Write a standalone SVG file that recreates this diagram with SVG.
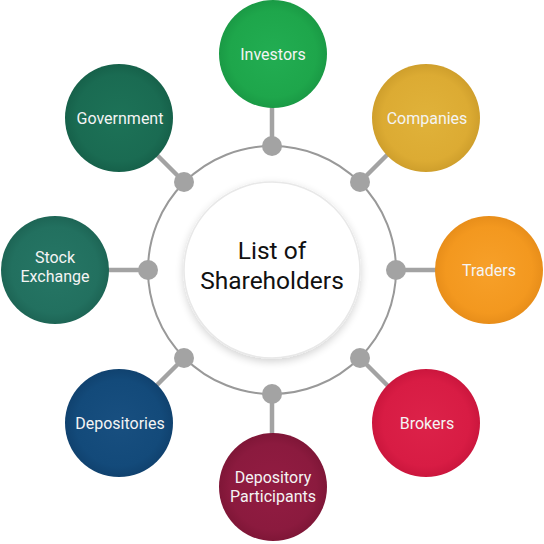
<svg xmlns="http://www.w3.org/2000/svg" width="544" height="544" viewBox="0 0 544 544">
<style>
.lbl{font-family:Roboto,"Liberation Sans",sans-serif;font-size:16px;fill:#f4f4f4;text-anchor:middle}
.center{font-family:Roboto,"Liberation Sans",sans-serif;font-size:24.5px;fill:#111;text-anchor:middle}
.conn{stroke:#a3a3a3;stroke-width:4.5;fill:none}
.dot{fill:#a3a3a3}
.ring{stroke:#999;stroke-width:2;fill:none}
</style>
<defs>
<radialGradient id="gInv"><stop offset="0" stop-color="#22ad52"/><stop offset="0.8" stop-color="#1ea64b"/><stop offset="1" stop-color="#1a9a45"/></radialGradient>
<radialGradient id="gCom"><stop offset="0" stop-color="#e0b23a"/><stop offset="0.8" stop-color="#dcab33"/><stop offset="1" stop-color="#cf9f2c"/></radialGradient>
<radialGradient id="gTra"><stop offset="0" stop-color="#f7a029"/><stop offset="0.8" stop-color="#f3981f"/><stop offset="1" stop-color="#e88e1a"/></radialGradient>
<radialGradient id="gBro"><stop offset="0" stop-color="#dc2249"/><stop offset="0.8" stop-color="#d81c44"/><stop offset="1" stop-color="#cb163d"/></radialGradient>
<radialGradient id="gDP"><stop offset="0" stop-color="#921c42"/><stop offset="0.8" stop-color="#8b1a3e"/><stop offset="1" stop-color="#7f1637"/></radialGradient>
<radialGradient id="gDep"><stop offset="0" stop-color="#184f80"/><stop offset="0.8" stop-color="#134a7a"/><stop offset="1" stop-color="#10426f"/></radialGradient>
<radialGradient id="gSE"><stop offset="0" stop-color="#267665"/><stop offset="0.8" stop-color="#22705f"/><stop offset="1" stop-color="#1d6555"/></radialGradient>
<radialGradient id="gGov"><stop offset="0" stop-color="#1d7257"/><stop offset="0.8" stop-color="#1a6b52"/><stop offset="1" stop-color="#16614a"/></radialGradient>
<filter id="sh" x="-20%" y="-20%" width="140%" height="140%"><feGaussianBlur in="SourceAlpha" stdDeviation="4"/><feOffset dy="3"/><feComponentTransfer><feFuncA type="linear" slope="0.18"/></feComponentTransfer><feMerge><feMergeNode/><feMergeNode in="SourceGraphic"/></feMerge></filter>
</defs>
<rect width="544" height="544" fill="#fff"/>
<g id="connectors">
<circle class="ring" cx="272" cy="270" r="124"/>
<line class="conn" x1="272" y1="146" x2="272" y2="100"/>
<line class="conn" x1="360" y1="182" x2="390" y2="152"/>
<line class="conn" x1="396" y1="270" x2="440" y2="270"/>
<line class="conn" x1="360" y1="358" x2="390" y2="388"/>
<line class="conn" x1="272" y1="394" x2="272" y2="440"/>
<line class="conn" x1="184" y1="358" x2="154" y2="388"/>
<line class="conn" x1="148" y1="270" x2="104" y2="270"/>
<line class="conn" x1="184" y1="182" x2="154" y2="152"/>
<circle class="dot" cx="272" cy="146" r="10"/>
<circle class="dot" cx="360" cy="182" r="10"/>
<circle class="dot" cx="396" cy="270" r="10"/>
<circle class="dot" cx="360" cy="358" r="10"/>
<circle class="dot" cx="272" cy="394" r="10"/>
<circle class="dot" cx="184" cy="358" r="10"/>
<circle class="dot" cx="148" cy="270" r="10"/>
<circle class="dot" cx="184" cy="182" r="10"/>
</g>
<g id="center">
<circle cx="272" cy="270" r="88" fill="#fff" stroke="#e8e8e8" stroke-width="1.5" filter="url(#sh)"/>
<text class="center" x="272" y="259">List of</text>
<text class="center" x="272" y="289">Shareholders</text>
</g>
<g id="investors"><circle cx="273" cy="54" r="54" fill="url(#gInv)"/><text class="lbl" x="273" y="60">Investors</text></g>
<g id="companies"><circle cx="426" cy="118" r="54" fill="url(#gCom)"/><text class="lbl" x="427" y="124">Companies</text></g>
<g id="traders"><circle cx="489" cy="270" r="54" fill="url(#gTra)"/><text class="lbl" x="489" y="276">Traders</text></g>
<g id="brokers"><circle cx="426" cy="423" r="54" fill="url(#gBro)"/><text class="lbl" x="427" y="429">Brokers</text></g>
<g id="depository-participants"><circle cx="273" cy="487" r="54" fill="url(#gDP)"/><text class="lbl" x="273" y="483">Depository</text><text class="lbl" x="273" y="502">Participants</text></g>
<g id="depositories"><circle cx="119" cy="423" r="54" fill="url(#gDep)"/><text class="lbl" x="120" y="429">Depositories</text></g>
<g id="stock-exchange"><circle cx="55" cy="270" r="54" fill="url(#gSE)"/><text class="lbl" x="55" y="263">Stock</text><text class="lbl" x="55" y="282">Exchange</text></g>
<g id="government"><circle cx="119" cy="118" r="54" fill="url(#gGov)"/><text class="lbl" x="120" y="124">Government</text></g>
</svg>
